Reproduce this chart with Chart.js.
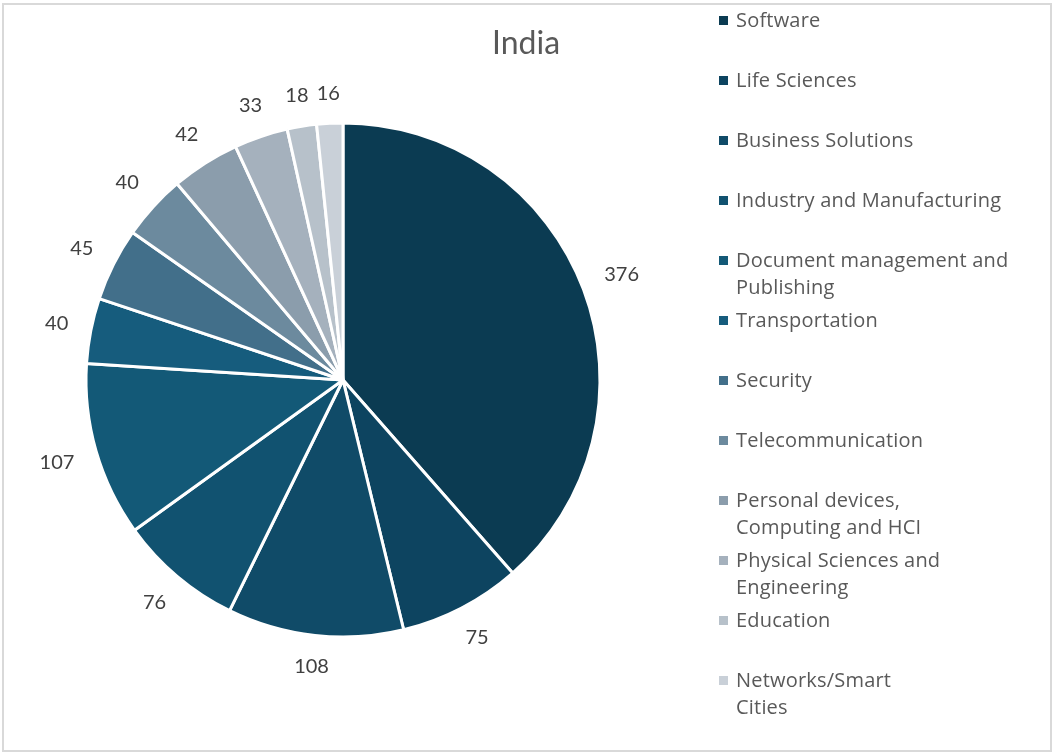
<!DOCTYPE html>
<html>
<head>
<meta charset="utf-8">
<script src="https://cdn.jsdelivr.net/npm/chart.js@4"></script>
<style>
  html, body { margin: 0; padding: 0; background: #fff; }
  #wrap { position: relative; width: 1052px; height: 752px; font-family: Lato, sans-serif; }
  #frame { position: absolute; left: 2px; top: 3px; width: 1046px; height: 745px; border: 2px solid #d9d9d9; box-sizing: content-box; pointer-events: none; }
  #legend { position: absolute; left: 719px; top: 0; }
  .item { position: absolute; left: 0; width: 330px; color: #595959; font-family: "Open Sans", sans-serif; font-size: 20px; letter-spacing: 0.2px; line-height: 27px; }
  .item i { position: absolute; left: 0; top: 10px; width: 9px; height: 9px; }
  .item span { display: block; margin-left: 17px; }
</style>
</head>
<body>
<div id="wrap">
  <canvas id="pie" width="1052" height="752"></canvas>
  <div id="legend"></div>
  <div id="frame"></div>
</div>
<script>
const categories = [
  "Software",
  "Life Sciences",
  "Business Solutions",
  "Industry and Manufacturing",
  ["Document management and", "Publishing"],
  "Transportation",
  "Security",
  "Telecommunication",
  ["Personal devices,", "Computing and HCI"],
  ["Physical Sciences and", "Engineering"],
  "Education",
  ["Networks/Smart", "Cities"]
];
const counts = [376, 75, 108, 76, 107, 40, 45, 40, 42, 33, 18, 16];
const colors = [
  "#0b3b52", "#0d4460", "#104b68", "#115270", "#135977", "#165c7d",
  "#426f8a", "#6c8a9e", "#8b9dac", "#a5b1bd", "#b7c1ca", "#c9d0d8"
];

// value labels just outside each slice, box kept clear of the rim
const outsideLabels = {
  id: "outsideLabels",
  afterDatasetsDraw(chart) {
    const ctx = chart.ctx;
    const meta = chart.getDatasetMeta(0);
    ctx.save();
    ctx.font = "20px Lato";
    ctx.fillStyle = "#404040";
    ctx.textAlign = "center";
    ctx.textBaseline = "middle";
    meta.data.forEach((arc, i) => {
      const p = arc.getProps(["x", "y", "startAngle", "endAngle", "outerRadius"]);
      const mid = (p.startAngle + p.endAngle) / 2;
      const txt = String(counts[i]);
      const w = ctx.measureText(txt).width;
      const c = Math.cos(mid), s = Math.sin(mid);
      const r = p.outerRadius + 22 + (w / 2) * Math.abs(c) + 7 * Math.abs(s);
      ctx.fillText(txt, p.x + c * r, p.y + s * r);
    });
    ctx.font = "32px Lato";
    ctx.fillStyle = "#595959";
    ctx.fillText("India", 526, 44);
    ctx.restore();
  }
};

const chart = new Chart(document.getElementById("pie"), {
  type: "pie",
  data: {
    labels: categories,
    datasets: [{
      data: counts,
      backgroundColor: colors,
      borderColor: "#ffffff",
      borderWidth: 3
    }]
  },
  options: {
    responsive: false,
    animation: false,
    radius: 257,
    layout: { padding: { left: 87, right: 453, top: 124, bottom: 116 } },
    plugins: {
      legend: { display: false },
      title: { display: false },
      tooltip: { enabled: false }
    }
  },
  plugins: [outsideLabels]
});

// legend, one 60px slot per category
const legend = document.getElementById("legend");
categories.forEach((c, i) => {
  const lines = Array.isArray(c) ? c : [c];
  const div = document.createElement("div");
  div.className = "item";
  div.style.top = (6 + i * 60) + "px";
  div.innerHTML = '<i style="background:' + colors[i] + '"></i><span>' + lines.join("<br>") + "</span>";
  legend.appendChild(div);
});
</script>
</body>
</html>
